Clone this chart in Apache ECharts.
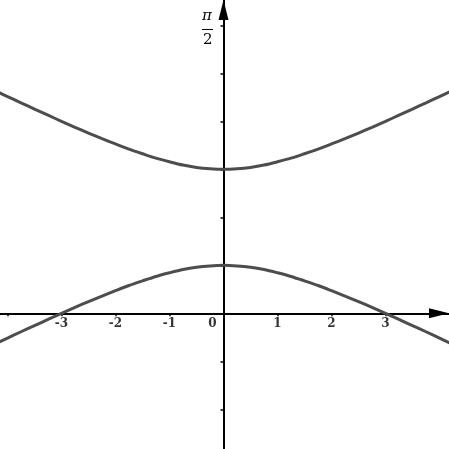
<!DOCTYPE html>
<html>
<head>
<meta charset="utf-8">
<script src="https://cdn.jsdelivr.net/npm/echarts@6/dist/echarts.min.js"></script>
<style>html,body{margin:0;padding:0;background:#fff;}#c{width:449px;height:449px;}</style>
</head>
<body>
<div id="c"></div>
<script>
const xs = [-4.25, -4, -3.75, -3.5, -3.25, -3, -2.75, -2.5, -2.25, -2, -1.75, -1.5, -1.25, -1, -0.75, -0.5, -0.25, 0,
            0.25, 0.5, 0.75, 1, 1.25, 1.5, 1.75, 2, 2.25, 2.5, 2.75, 3, 3.25, 3.5, 3.75, 4, 4.25];
const upperCurve = [1.162, 1.129, 1.096, 1.064, 1.032, 1.0, 0.969, 0.939, 0.91, 0.882, 0.855, 0.831, 0.808, 0.789, 0.772, 0.76, 0.753, 0.75,
                    0.753, 0.76, 0.772, 0.789, 0.808, 0.831, 0.855, 0.882, 0.91, 0.939, 0.969, 1.0, 1.032, 1.064, 1.096, 1.129, 1.162];
const lowerCurve = [-0.162, -0.129, -0.096, -0.064, -0.032, 0.0, 0.031, 0.061, 0.09, 0.118, 0.145, 0.169, 0.192, 0.211, 0.228, 0.24, 0.247, 0.25,
                    0.247, 0.24, 0.228, 0.211, 0.192, 0.169, 0.145, 0.118, 0.09, 0.061, 0.031, 0.0, -0.032, -0.064, -0.096, -0.129, -0.162];
const xTicks = [-4, -3, -2, -1, 1, 2, 3];
const xLabels = [-3, -2, -1, 0, 1, 2, 3];
const yTicks = [-0.5, -0.25, 0.25, 0.5, 0.75, 1, 1.25, 1.5];
const yAxisName = ['π', '2'];

const chart = echarts.init(document.getElementById('c'), null, {renderer: 'canvas'});
const pair = (ys) => xs.map((x, i) => [x, ys[i]]);
const curveStyle = {color: '#4d4d4d', width: 3};
const labelFont = {fontFamily: 'DejaVu Serif', fontWeight: 'bold', fontSize: 12, color: '#000'};
chart.setOption({
  animation: false,
  backgroundColor: '#ffffff',
  grid: {left: 0, right: 0, top: 0, bottom: 0, outerBoundsMode: 'none', containLabel: false},
  xAxis: {
    type: 'value', min: -4.139, max: 4.176,
    splitLine: {show: false},
    axisLine: {onZero: true, symbol: ['none', 'triangle'], symbolSize: [10, 20], symbolOffset: [0, -10], lineStyle: {color: '#000', width: 2}},
    axisTick: {show: true, customValues: xTicks, length: 3, lineStyle: {color: '#000', width: 1.5}},
    axisLabel: {show: false}
  },
  yAxis: {
    type: 'value', min: -0.7066, max: 1.6318,
    splitLine: {show: false},
    axisLine: {onZero: true, symbol: ['none', 'triangle'], symbolSize: [10, 20], symbolOffset: [0, -10], lineStyle: {color: '#000', width: 2}},
    axisTick: {show: true, customValues: yTicks, length: 3, lineStyle: {color: '#000', width: 1.5}},
    axisLabel: {show: false}
  },
  graphic: [
    {type: 'text', left: 202, top: 9, style: {text: yAxisName[0], fontFamily: 'DejaVu Serif', fontStyle: 'italic', fontSize: 15, fill: '#000'}},
    {type: 'line', shape: {x1: 202, y1: 29.5, x2: 213, y2: 29.5}, style: {stroke: '#000', lineWidth: 1}},
    {type: 'text', left: 203, top: 33, style: {text: yAxisName[1], fontFamily: 'DejaVu Serif', fontSize: 15, fill: '#000'}}
  ],
  series: [
    {type: 'line', data: pair(upperCurve), smooth: 0.3, showSymbol: false, lineStyle: curveStyle, z: 1},
    {type: 'line', data: pair(lowerCurve), smooth: 0.3, showSymbol: false, lineStyle: curveStyle, z: 1},
    {
      type: 'scatter', data: xLabels.map((x) => [x, 0]), symbolSize: 0, z: 5, silent: true,
      label: {
        show: true, position: 'bottom', distance: 5, ...labelFont,
        formatter: (p) => String(p.value[0])
      },
      labelLayout: (p) => p.dataIndex === 3 ? {dx: -11} : {}
    }
  ]
});
</script>
</body>
</html>
